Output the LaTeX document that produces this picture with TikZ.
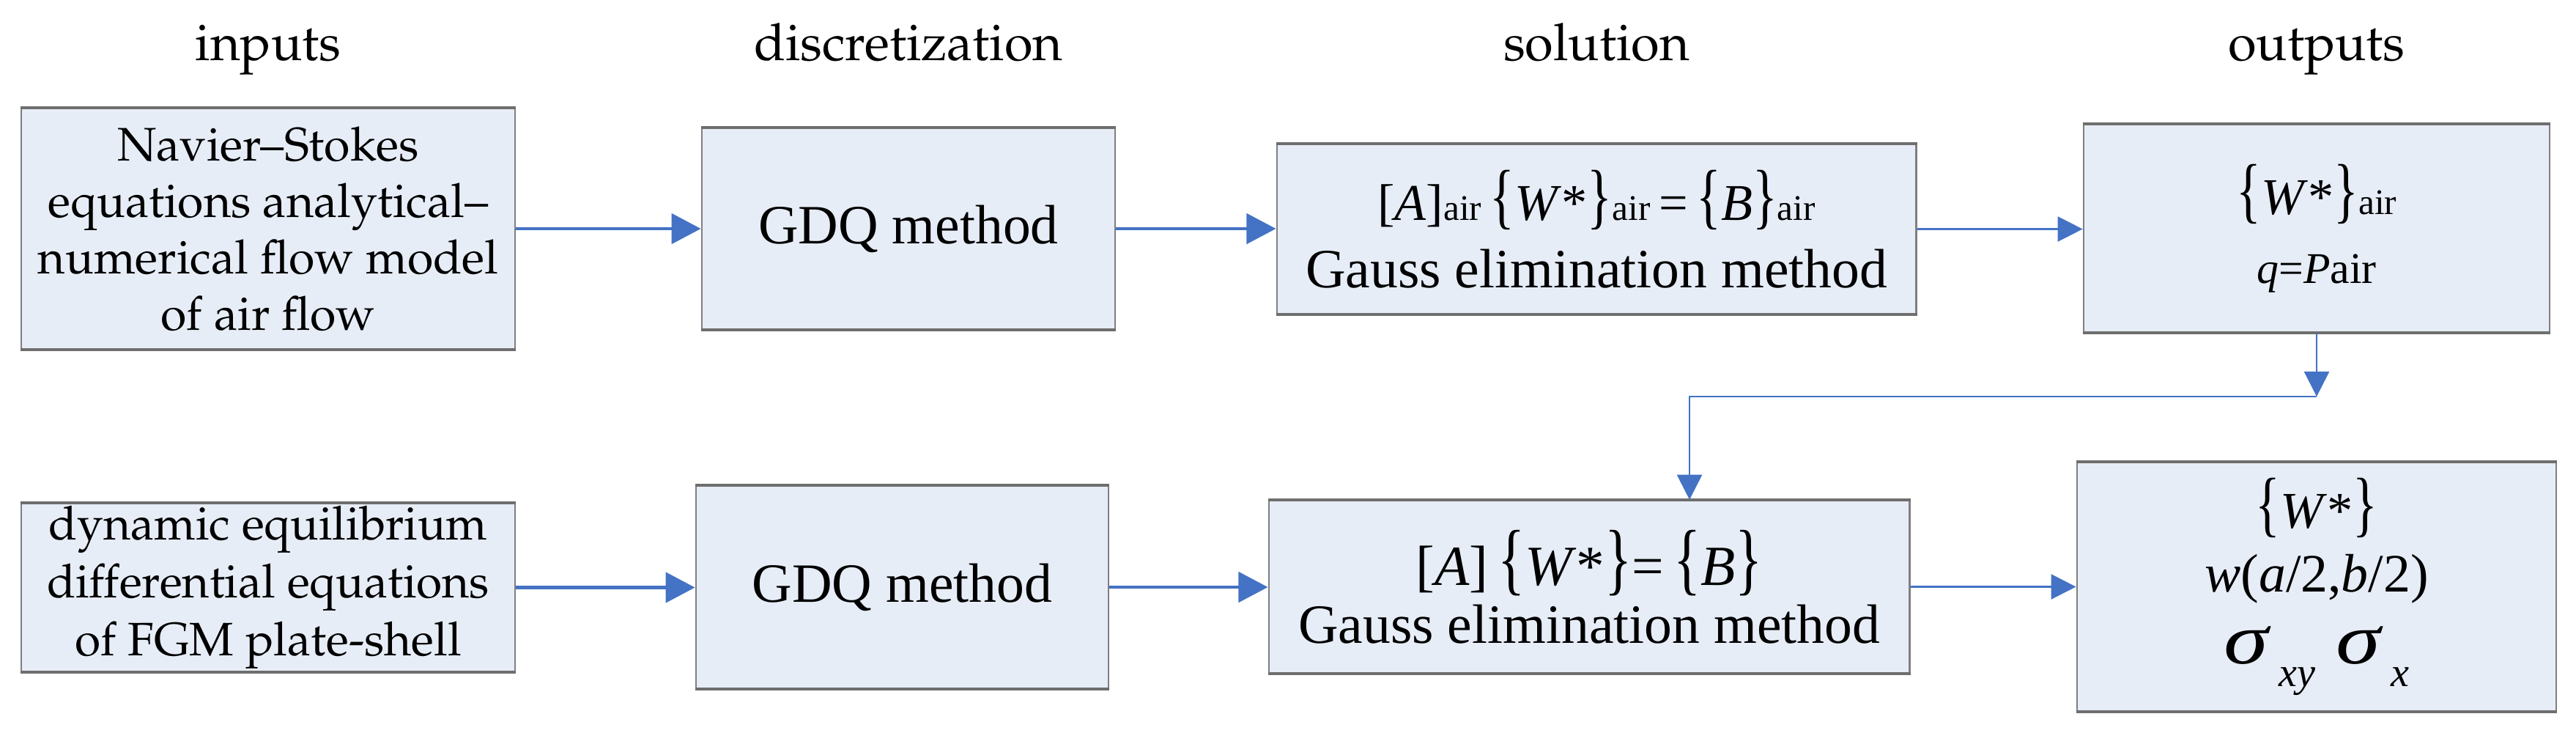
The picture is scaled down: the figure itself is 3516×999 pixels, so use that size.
\documentclass[tikz,border=0pt]{standalone}
\usepackage[T1]{fontenc}
\usepackage{fontspec}
\setmainfont{Liberation Serif}
\usepackage{graphicx}
\usetikzlibrary{arrows.meta}
\definecolor{boxfill}{HTML}{E7EDF7}
\definecolor{boxline}{HTML}{7F7F7F}
\definecolor{boxedge}{HTML}{6E6E6E}
\definecolor{arrowblue}{HTML}{4472C4}
\newcommand{\airsub}{{\fontsize{14}{14}\selectfont air}}
\newcommand{\tallbr}[1]{\scalebox{1}[1.4]{#1}}
\newcommand{\palfont}{\fontencoding{T1}\fontfamily{ppl}\selectfont}
\newcommand{\bigsig}{{\fontsize{28}{28}\selectfont\scalebox{1.25}[1]{\textit{σ}}}\hspace{3pt}}
\newcommand{\sigsub}[1]{\raisebox{-9pt}{\fontsize{16}{16}\selectfont\textit{#1}}}
\begin{document}
\begin{tikzpicture}[x=0.01cm,y=-0.01cm,
  stagebox/.style={draw=boxline, fill=boxfill, line width=0.7pt, inner sep=0pt, align=center, anchor=center},
  edgeline/.style={draw=boxedge, line width=1.2pt},
  header/.style={anchor=base, font=\palfont\fontsize{20}{24}\selectfont},
  thickarrow/.style={draw=arrowblue, line width=1.3pt, -{Triangle[length=11.4pt,width=11.7pt]}},
  thinarrow/.style={draw=arrowblue, line width=0.7pt, -{Triangle[length=9.7pt,width=9.7pt]}}]
\useasboundingbox (0,0) rectangle (3516,999);

% column headers
\node[header] (hin)  at (366,82)  {inputs};
\node[header] (hdis) at (1240,82) {discretization};
\node[header] (hsol) at (2179,82) {solution};
\node[header] (hout) at (3162,82) {outputs};

% top row
\node[stagebox, minimum width=6.74cm, minimum height=3.28cm, font=\palfont\fontsize{18.3}{21.9}\selectfont] (in1) at (366,312)
  {Navier--Stokes\\equations analytical--\\numerical flow model\\of air flow};
\node[stagebox, minimum width=5.64cm, minimum height=2.74cm, font=\fontsize{21.5}{26}\selectfont] (gdq1) at (1240,312)
  {GDQ method};
\node[stagebox, minimum width=8.72cm, minimum height=2.31cm, font=\fontsize{21.5}{26.2}\selectfont] (sol1) at (2179,312.5)
  {{\fontsize{20}{20}\selectfont[\textit{A}]\airsub\,\tallbr{\{}\textit{W}*\tallbr{\}}\airsub\,=\,\tallbr{\{}\textit{B}\tallbr{\}}\airsub}\\Gauss elimination method};
\node[stagebox, minimum width=6.36cm, minimum height=2.83cm, font=\fontsize{20}{26.7}\selectfont] (out1) at (3162,311.5)
  {{\fontsize{20}{20}\selectfont\tallbr{\{}\textit{W}*\tallbr{\}}\airsub}\\{\fontsize{17}{17}\selectfont\textit{q}=\textit{P}air}};

% bottom row
\node[stagebox, minimum width=6.74cm, minimum height=2.29cm, font=\palfont\fontsize{18.2}{22.5}\selectfont] (in2) at (366,801.5)
  {dynamic equilibrium\\differential equations\\of FGM plate-shell};
\node[stagebox, minimum width=5.63cm, minimum height=2.76cm, font=\fontsize{21.5}{26}\selectfont] (gdq2) at (1231.5,801)
  {GDQ method};
\node[stagebox, minimum width=8.74cm, minimum height=2.35cm, font=\fontsize{21.5}{22.5}\selectfont] (sol2) at (2169,800.5)
  {{\fontsize{22}{22}\selectfont[\textit{A}]\,\tallbr{\{}\textit{W}*\tallbr{\}}=\,\tallbr{\{}\textit{B}\tallbr{\}}}\\Gauss elimination method};
\node[stagebox, minimum width=6.54cm, minimum height=3.39cm, font=\fontsize{21}{24.8}\selectfont] (out2) at (3162,800.5)
  {{\fontsize{20}{20}\selectfont\tallbr{\{}\textit{W}*\tallbr{\}}}\\\textit{w}(\textit{a}/2,\textit{b}/2)\\[3pt]\bigsig\sigsub{xy}\hspace{8pt}\bigsig\sigsub{x}};

% darker top and bottom edges of the boxes
\foreach \b in {in1,gdq1,sol1,out1,in2,gdq2,sol2,out2}{
  \draw[edgeline] (\b.north west) -- (\b.north east);
  \draw[edgeline] (\b.south west) -- (\b.south east);
}

% connectors
\draw[thickarrow] (in1.east) -- (gdq1.west);
\draw[thickarrow] (gdq1.east) -- (gdq1.east -| sol1.west);
\draw[thinarrow] (sol1.east) -- (sol1.east -| out1.west);
\draw[thickarrow] (in2.east) -- (in2.east -| gdq2.west);
\draw[thickarrow] (gdq2.east) -- (gdq2.east -| sol2.west);
\draw[thinarrow] (sol2.east) -- (sol2.east -| out2.west);

\coordinate (j) at (3162,541);
\coordinate (k) at (2306,541);
\draw[thinarrow] (out1.south) -- (j);
\draw[thinarrow] (j) -- (k) -- (k |- sol2.north);
\end{tikzpicture}
\end{document}
